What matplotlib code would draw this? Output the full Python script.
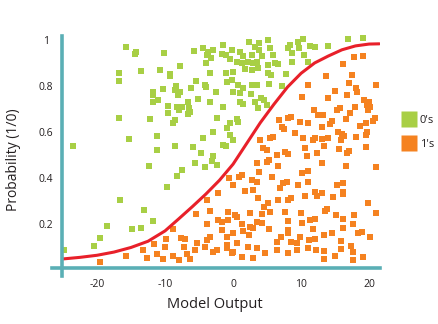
import matplotlib
matplotlib.use("Agg")
import matplotlib.pyplot as plt
from matplotlib.lines import Line2D

plt.rcParams['font.family'] = ['Open Sans', 'DejaVu Sans']
plt.rcParams['axes.unicode_minus'] = False

# green squares (0's)
green_x = [-15.7, -16.7, -16.8, -16.7, -15.3, -23.5, -16.6, -18.5, -19.5, -20.4, -24.9,
           -14.2, -14.4, -10.1, -13.6, -10.8, -7.8, -9.2, -9.3, -11.8, -11.7, -10.3, -11.0,
           -11.8, -8.4, -8.6, -7.8, -8.1, -9.6, -9.5, -8.3, -8.0, -7.5, -6.6, -6.5, -6.6,
           -6.3, -5.5, -5.1, -8.5, -8.8, -12.2, -11.2, -11.2, -8.6, -5.9, -4.7, -12.3, -7.45,
           -8.2, -9.7, -13.1, -11.7, -14.8, -13.5,
           -5.73, -4.46, -3.62, -2.99, -3.87, -1.42, -1.66, -1.03, -0.19, 1.03, 1.52, 2.41, 2.75,
           -3.97, -3.28, -0.44, 0.54, 1.28, 2.26, 2.99, -3.38, -1.03, 0.05, 1.77, 2.75,
           -4.11, -0.93, -0.19, 0.79, 1.52, 2.75, -6.17, -3.97, -2.5, -0.05, 1.03, 2.65,
           -3.38, -1.42, 1.03, 1.52, -2.3, -0.44, 0.54, 0.79, -0.83, -2.99, -4.46, -0.44,
           -0.05, -1.42, -1.03, -2.89, -3.13, -5.59, -4.11, -2.4,
           3.83, 5.2, 3.83, 5.45, 5.94, 4.2, 8.04, 8.4, 9.5, 10.35, 8.73, 9.71, 10.5, 11.33,
           12.06, 11.08, 3.48, 5.2, 6.18, 6.67, 8.63, 3.73, 5.1, 5.6, 7.75, 5.3, 3.48, 7.16,
           4.12, 4.61, 4.96, 3.63, 3.24, 3.24,
           14.0, 16.96, 19.06]
green_y = [0.968, 0.858, 0.823, 0.661, 0.571, 0.541, 0.303, 0.191, 0.141, 0.106, 0.085,
           0.949, 0.939, 0.945, 0.867, 0.870, 0.887, 0.851, 0.843, 0.775, 0.761, 0.788, 0.739,
           0.728, 0.800, 0.783, 0.775, 0.760, 0.713, 0.681, 0.710, 0.695, 0.708, 0.728, 0.704, 0.680,
           0.688, 0.823, 0.742, 0.652, 0.640, 0.657, 0.583, 0.522, 0.540, 0.533, 0.510, 0.454, 0.435,
           0.410, 0.362, 0.260, 0.215, 0.180, 0.183,
           0.951, 0.964, 0.949, 0.957, 0.935, 0.978, 0.940, 0.935, 0.954, 0.949, 0.928, 0.993, 0.935,
           0.899, 0.920, 0.916, 0.906, 0.899, 0.906, 0.899, 0.858, 0.855, 0.862, 0.872, 0.870,
           0.804, 0.819, 0.826, 0.804, 0.790, 0.804, 0.790, 0.797, 0.775, 0.775, 0.768, 0.765,
           0.728, 0.707, 0.732, 0.722, 0.660, 0.638, 0.655, 0.645, 0.619, 0.601, 0.573, 0.587,
           0.565, 0.544, 0.539, 0.496, 0.475, 0.467, 0.449, 0.458,
           0.988, 1.000, 0.957, 0.964, 0.935, 0.930, 0.964, 0.978, 0.993, 1.003, 0.945, 0.964, 0.935, 0.974,
           0.968, 0.906, 0.906, 0.891, 0.899, 0.896, 0.906, 0.877, 0.855, 0.848, 0.852, 0.809, 0.804, 0.800,
           0.746, 0.739, 0.717, 0.703, 0.732, 0.971,
           0.974, 1.003, 1.007]

# orange squares (1's)
orange_x = [-19.56, -15.74, -13.28, -12.6, -11.6, -11.2, -10.34, -10.0, -9.85, -8.78, -8.87,
            -8.0, -7.6, -7.0, -7.2, -6.7, -6.3, -5.4, -5.35, -5.6,
            -0.54, 0.05, 0.93, 1.28, 1.77, 2.75, 2.99, -3.87, -2.15, -3.38, -0.68, 0.3, 2.5,
            -2.15, -1.66, -0.68, 0.54, 1.28, 1.52, 2.5, 2.99, 2.4, 0.05, -0.93, -1.66, -3.87,
            -3.38, -3.87, -4.11, -2.89, -2.4, -0.93, -0.93, -0.2, 0.05, 0.54, 2.26, 1.28, 2.99,
            10.99, 10.1, 6.77, 8.14, 8.53, 7.16, 7.55, 9.86, 11.08, 12.55, 11.97,
            3.98, 5.45, 5.94, 9.12, 10.35, 11.82, 12.06, 4.47, 4.96, 7.65, 8.04, 6.43, 10.6,
            12.3, 10.84, 3.48, 4.96, 5.3, 6.67, 10.1, 10.99, 3.83, 5.7, 7.41, 9.51, 10.99, 7.9,
            3.48, 6.92, 12.06, 12.3, 10.6, 8.14, 8.53, 6.67, 5.2, 3.73, 4.61, 5.45, 7.65, 10.0,
            4.22, 3.48, 4.22, 8.14, 10.1, 11.33, 12.06, 5.3, 8.04, 8.14, 11.82, 7.06, 8.53, 9.37,
            11.18, 12.06, 9.86, 6.43, 3.48, 4.71, 6.43, 8.14, 9.37, 10.99, 12.16,
            16.1, 17.79, 19.06, 13.67, 17.45, 17.1, 21.0, 14.99, 16.71, 18.08, 18.18, 14.0,
            19.26, 20.04, 19.65, 20.14, 19.9, 15.73, 15.34, 17.94, 17.2, 13.28, 16.61, 14.5,
            14.26, 20.88, 20.63, 19.55, 18.67, 13.04, 19.65, 19.55, 15.49, 15.98, 16.32, 15.83,
            14.0, 13.04, 18.08, 13.38, 19.55, 15.63, 17.1, 16.81, 13.04, 16.61, 21.0, 15.34,
            16.12, 16.12, 16.12, 14.65, 13.04, 19.9, 13.53, 13.87, 15.14, 17.79, 21.0, 16.12,
            17.6, 16.12, 14.5, 13.38, 18.43, 18.92, 20.14, 15.83, 17.3, 13.38, 15.83, 17.6,
            14.99, 13.38, 17.6, 19.06]
orange_y = [0.035, 0.061, 0.087, 0.052, 0.113, 0.070, 0.046, 0.099, 0.133, 0.177, 0.061,
            0.043, 0.138, 0.133, 0.099, 0.070, 0.046, 0.244, 0.116, 0.085,
            0.399, 0.369, 0.406, 0.413, 0.345, 0.391, 0.348, 0.304, 0.333, 0.258, 0.254, 0.239, 0.249,
            0.217, 0.210, 0.217, 0.232, 0.200, 0.171, 0.188, 0.181, 0.152, 0.159, 0.145, 0.174, 0.200,
            0.145, 0.130, 0.100, 0.080, 0.087, 0.109, 0.094, 0.072, 0.080, 0.116, 0.101, 0.055, 0.051,
            0.804, 0.754, 0.652, 0.659, 0.667, 0.623, 0.612, 0.645, 0.638, 0.674, 0.696,
            0.565, 0.572, 0.577, 0.594, 0.572, 0.565, 0.572, 0.529, 0.522, 0.515, 0.504, 0.500, 0.529,
            0.510, 0.496, 0.464, 0.471, 0.478, 0.452, 0.420, 0.432, 0.428, 0.406, 0.377, 0.370, 0.384, 0.384,
            0.384, 0.355, 0.341, 0.322, 0.322, 0.304, 0.312, 0.304, 0.290, 0.312, 0.275, 0.254, 0.250, 0.246,
            0.244, 0.210, 0.206, 0.215, 0.206, 0.217, 0.220, 0.177, 0.174, 0.162, 0.177, 0.142, 0.123, 0.119,
            0.130, 0.133, 0.142, 0.123, 0.094, 0.072, 0.087, 0.075, 0.087, 0.094, 0.087,
            0.894, 0.925, 0.931, 0.841, 0.848, 0.812, 0.804, 0.778, 0.761, 0.790, 0.775, 0.746,
            0.739, 0.728, 0.717, 0.707, 0.696, 0.703, 0.696, 0.710, 0.681, 0.674, 0.655, 0.649,
            0.635, 0.659, 0.649, 0.638, 0.626, 0.623, 0.601, 0.587, 0.601, 0.591, 0.583, 0.565,
            0.572, 0.568, 0.577, 0.539, 0.536, 0.525, 0.519, 0.510, 0.464, 0.452, 0.446, 0.370,
            0.380, 0.341, 0.331, 0.319, 0.336, 0.290, 0.258, 0.264, 0.239, 0.239, 0.249, 0.220,
            0.199, 0.181, 0.162, 0.152, 0.159, 0.167, 0.142, 0.128, 0.104, 0.084, 0.090, 0.080,
            0.061, 0.046, 0.044, 0.055]

# red curve
curve_x = [-25.4, -22.5, -20, -17.5, -15, -12.5, -10, -8, -6, -4, -2, 0, 2, 4, 6, 8,
           10, 12, 14, 16, 18, 20, 21.5]
curve_y = [0.047, 0.055, 0.064, 0.078, 0.098, 0.125, 0.170, 0.222, 0.275, 0.330, 0.390,
           0.460, 0.550, 0.640, 0.720, 0.795, 0.855, 0.900, 0.930, 0.957, 0.974, 0.982, 0.983]

x_ticks = [-20, -10, 0, 10, 20]
y_ticks = [0.2, 0.4, 0.6, 0.8, 1]
y_tick_labels = ['0.2', '0.4', '0.6', '0.8', '1']

green = '#a8cf45'
orange = '#f58220'
red = '#e8202a'
teal = '#5aafb5'
text_c = '#231f20'

fig = plt.figure(figsize=(4.38, 3.24), dpi=100)
ax = fig.add_axes([62/438, 1 - 268/324, 318/438, 232/324])

ax.scatter(green_x, green_y, marker='s', s=16, color=green, linewidths=0, zorder=2, clip_on=False)
ax.scatter(orange_x, orange_y, marker='s', s=16, color=orange, linewidths=0, zorder=2, clip_on=False)
ax.plot(curve_x, curve_y, color=red, lw=2.2, zorder=3, solid_capstyle='round')

ax.set_xlim(-25.15, 21.6)
ax.set_ylim(0.0087, 1.017)

for s in ax.spines.values():
    s.set_visible(False)
# axis lines crossing at the corner
ax.plot([-0.03, 1], [0, 0], transform=ax.transAxes, color=teal, lw=2.6, clip_on=False, zorder=4)
ax.plot([0, 0], [-0.036, 1], transform=ax.transAxes, color=teal, lw=2.6, clip_on=False, zorder=4)

ax.set_xticks(x_ticks)
ax.set_xticklabels([str(v) for v in x_ticks])
ax.set_yticks(y_ticks)
ax.set_yticklabels(y_tick_labels)
ax.tick_params(axis='x', length=0, pad=8, labelsize=7.5, labelcolor=text_c)
ax.tick_params(axis='y', length=0, pad=11.5, labelsize=7.5, labelcolor=text_c)
for lab in ax.get_yticklabels():
    lab.set_horizontalalignment('center')

ax.set_xlabel('Model Output', fontsize=10.5, color=text_c)
ax.xaxis.set_label_coords(0.48, -0.125)
ax.set_ylabel('Probability (1/0)', fontsize=10, color=text_c)
ax.yaxis.set_label_coords(-0.13, 0.467)

handles = [Line2D([], [], marker='s', ls='none', mfc=green, mec='none', ms=11, label="0's"),
           Line2D([], [], marker='s', ls='none', mfc=orange, mec='none', ms=11, label="1's")]
fig.legend(handles=handles, loc='center left', bbox_to_anchor=(401/438, 1 - 132.5/324),
           frameon=False, fontsize=8, handlelength=1.4, handletextpad=0.3,
           labelspacing=1.2, borderpad=0, borderaxespad=0, labelcolor=text_c)

fig.savefig('out.png', dpi=100)
